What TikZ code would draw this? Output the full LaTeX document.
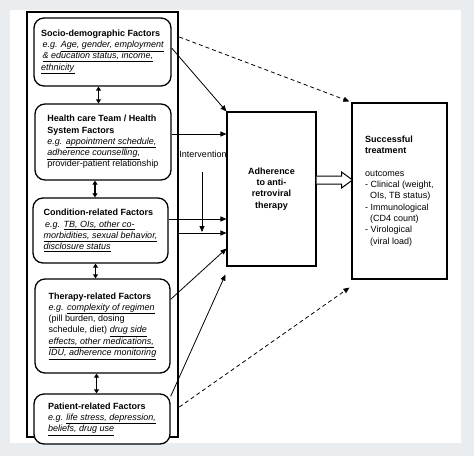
\documentclass[tikz,border=0pt]{standalone}
\usepackage{fontspec}
\setmainfont{Liberation Sans}
\usetikzlibrary{arrows.meta,calc}
\newcommand{\uit}[1]{\underline{\textit{#1}}}
\definecolor{bggray}{HTML}{E9EDEF}
\begin{document}
\begin{tikzpicture}[x=1pt,y=-1pt,
  txt/.style={font=\fontsize{9}{11.3}\selectfont},
  fbox/.style={txt, draw, rounded corners=10pt, line width=1.3pt, fill=white, align=left, inner sep=0pt},
  rbox/.style={txt, draw, line width=1.1pt, fill=white, inner sep=0pt},
  arr/.style={-{Triangle[length=6pt,width=5pt]}, line width=0.8pt},
  darr/.style={arr, dash pattern=on 4pt off 3pt},
  link/.style={{Triangle[length=4pt,width=5pt]}-{Triangle[length=4pt,width=5pt]}, line width=1.1pt}
]
\fill[bggray] (0,0) rectangle (474,456);
\fill[white] (10,10) rectangle (461,443);

\node[draw, line width=2.6pt, inner sep=0pt, minimum width=151, minimum height=425] (frame) at (102.5,224.5) {};

\node[fbox, minimum width=137, minimum height=68] (b1) at (102.5,52)
  {\textbf{Socio-demographic Factors}\\
   \,\textit{e.g.} \uit{Age, gender, employment}\\
   \,\uit{\& education status, income,}\\
   \uit{ethnicity}};
\node[fbox, minimum width=136, minimum height=76] (b2) at (103,142)
  {\textbf{Health care Team / Health}\\
   \textbf{System Factors}\\
   \textit{e.g.} \uit{appointment schedule,}\\
   \uit{adherence counselling,}\\
   provider-patient relationship};
\node[fbox, minimum width=135, minimum height=65] (b3) at (100.5,230.5)
  {\textbf{Condition-related Factors}\\
   \,\textit{e.g.} \uit{TB, OIs, other co-}\\
   \uit{morbidities, sexual behavior,}\\
   \uit{disclosure status}};
\node[fbox, minimum width=135, minimum height=94] (b4) at (102.5,326)
  {\textbf{Therapy-related Factors}\\
   \textit{e.g.} \uit{complexity of regimen}\\
   (pill burden, dosing\\
   schedule, diet) \uit{drug side}\\
   \uit{effects, other medications,}\\
   \uit{IDU, adherence monitoring}};
\node[fbox, minimum width=136, minimum height=50] (b5) at (102,419)
  {\textbf{Patient-related Factors}\\
   \textit{e.g.} \uit{life stress, depression,}\\
   \uit{beliefs, drug use}};

\node[rbox, minimum width=89, minimum height=154, align=center] (adh) at (271.5,189)
  {\textbf{Adherence}\\ \textbf{to anti-}\\ \textbf{retroviral}\\ \textbf{therapy}};
\node[rbox, minimum width=95, minimum height=176, align=left] (suc) at (399.5,191)
  {\textbf{Successful}\\ \textbf{treatment}\\[11.3pt]
   outcomes\\
   - Clinical (weight,\\
   \ \ OIs, TB status)\\
   - Immunological\\
   \ \ (CD4 count)\\
   - Virological\\
   \ \ (viral load)};

\node[txt, inner sep=0pt] (interv) at (203,154) {Intervention};
\coordinate (ivs) at (202,172);
\coordinate (ive) at (202,232);

% links between factor boxes
\draw[link] ([xshift=-4pt]b1.south) -- ([xshift=-4pt]b1.south |- b2.north);
\draw[link] ([xshift=-8pt]b2.south) -- ([xshift=-8pt]b2.south |- b3.north);
\draw[link] ([xshift=-5pt]b3.south) -- ([xshift=-5pt]b3.south |- b4.north);
\draw[link] ([xshift=-6pt]b4.south) -- ([xshift=-6pt]b4.south |- b5.north);

% arrows to adherence
\draw[arr] ([yshift=4pt]b1.east) -- (adh.north west);
\draw[arr] ([yshift=8pt]b2.east) -- ([yshift=8pt]b2.east -| adh.west);
\draw[arr] ([yshift=11.5pt]b3.east) -- ([yshift=11.5pt]b3.east -| adh.west);
\draw[arr] ([yshift=-2.5pt]b3.east -| frame.east) -- ([yshift=-2.5pt]b3.east -| adh.west);
\draw[arr] (ivs) -- (ive);
\draw[arr] ([yshift=-21pt]b4.north east) -- ($(adh.south west)+(0,-18)$);
\draw[arr] ($(b5.north east)+(0,3)$) -- ($(adh.south west)+(-1,8)$);

% dashed arrows to outcome
\draw[darr] ([yshift=15pt]b1.east -| frame.east) -- ($(suc.north west)+(-2,-1)$);
\draw[darr] ([yshift=12pt]b5.east -| frame.east) -- ($(suc.south west)+(-2,8)$);

% hollow arrow
\coordinate (ha) at ([yshift=9pt]adh.east);
\draw[line width=1pt, fill=white, line join=miter]
  ($(ha)+(0,-4)$) -- ($(ha)+(25,-4)$) -- ($(ha)+(25,-8)$) -- ($(ha)+(36,0)$)
  -- ($(ha)+(25,8)$) -- ($(ha)+(25,4)$) -- ($(ha)+(0,4)$);
\end{tikzpicture}
\end{document}
